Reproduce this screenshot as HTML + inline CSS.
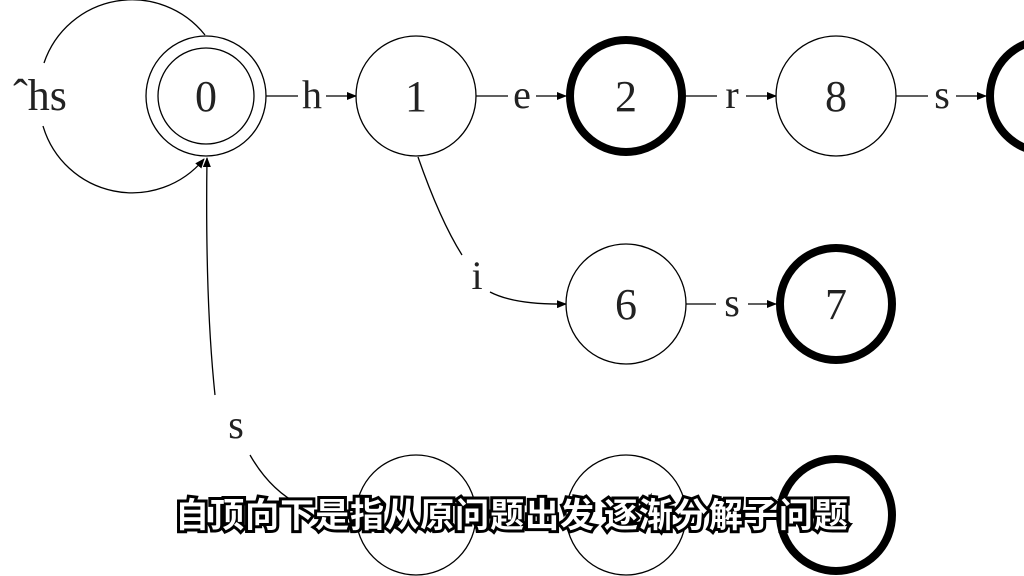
<!DOCTYPE html>
<html><head><meta charset="utf-8"><style>
html,body{margin:0;padding:0;background:#fff;width:1024px;height:576px;overflow:hidden}
.sub{position:absolute;left:0;width:1024px;top:488px;text-align:center;font:bold 34px "Noto Sans CJK SC",sans-serif;color:#fff;
-webkit-text-stroke:6px #000;paint-order:stroke fill;letter-spacing:1px;white-space:pre}
</style></head><body>
<svg width="1024" height="576" style="position:absolute;left:0;top:0" font-family="Liberation Serif, serif">
<defs><marker id="a" markerWidth="10" markerHeight="8" refX="9" refY="4" orient="auto" markerUnits="userSpaceOnUse"><path d="M0,0L10,4L0,8z" fill="#000"/></marker></defs>
<g fill="none" stroke="#000" stroke-width="1.3">
<circle cx="206" cy="96" r="60"/><circle cx="206" cy="96" r="48"/>
<circle cx="416" cy="96" r="60"/>
<circle cx="626" cy="96" r="56" stroke-width="8"/>
<circle cx="836" cy="96" r="60"/>
<circle cx="1046" cy="96" r="56" stroke-width="8"/>
<circle cx="626" cy="304" r="60"/>
<circle cx="836" cy="304" r="56" stroke-width="8"/>
<circle cx="416" cy="515" r="60"/>
<circle cx="626" cy="515" r="60"/>
<circle cx="836" cy="515" r="56" stroke-width="8"/>
<path d="M205,35 A93,93 0 0 0 44,63"/>
<path d="M43,126 A93,93 0 0 0 204,159" marker-end="url(#a)"/>
<path d="M266,96H298M326,96H356" marker-end="url(#a)"/>
<path d="M476,96H508M536,96H566" marker-end="url(#a)"/>
<path d="M686,96H717M746,96H776" marker-end="url(#a)"/>
<path d="M896,96H928M956,96H986" marker-end="url(#a)"/>
<path d="M686,304H716M748,304H776" marker-end="url(#a)"/>
<path d="M418,157 Q440,220 462,255"/>
<path d="M490,292 Q515,305 566,304" marker-end="url(#a)"/>
<path d="M215,395 Q205,300 207,158" marker-end="url(#a)"/>
<path d="M250,455 Q270,490 300,505"/>
</g>
<g font-size="44" text-anchor="middle" fill="#222">
<text x="206" y="111">0</text><text x="416" y="111">1</text><text x="626" y="111">2</text>
<text x="836" y="111">8</text><text x="626" y="319">6</text><text x="836" y="319">7</text>
</g>
<g font-size="40" text-anchor="middle" fill="#222">
<text x="312" y="108">h</text><text x="522" y="108">e</text><text x="732" y="108">r</text>
<text x="942" y="108">s</text><text x="732" y="316">s</text><text x="477" y="289">i</text>
<text x="236" y="438">s</text><text x="40" y="110" font-size="44">ˆhs</text>
</g>
</svg>
<div class="sub">自顶向下是指从原问题出发 逐渐分解子问题</div>
</body></html>
